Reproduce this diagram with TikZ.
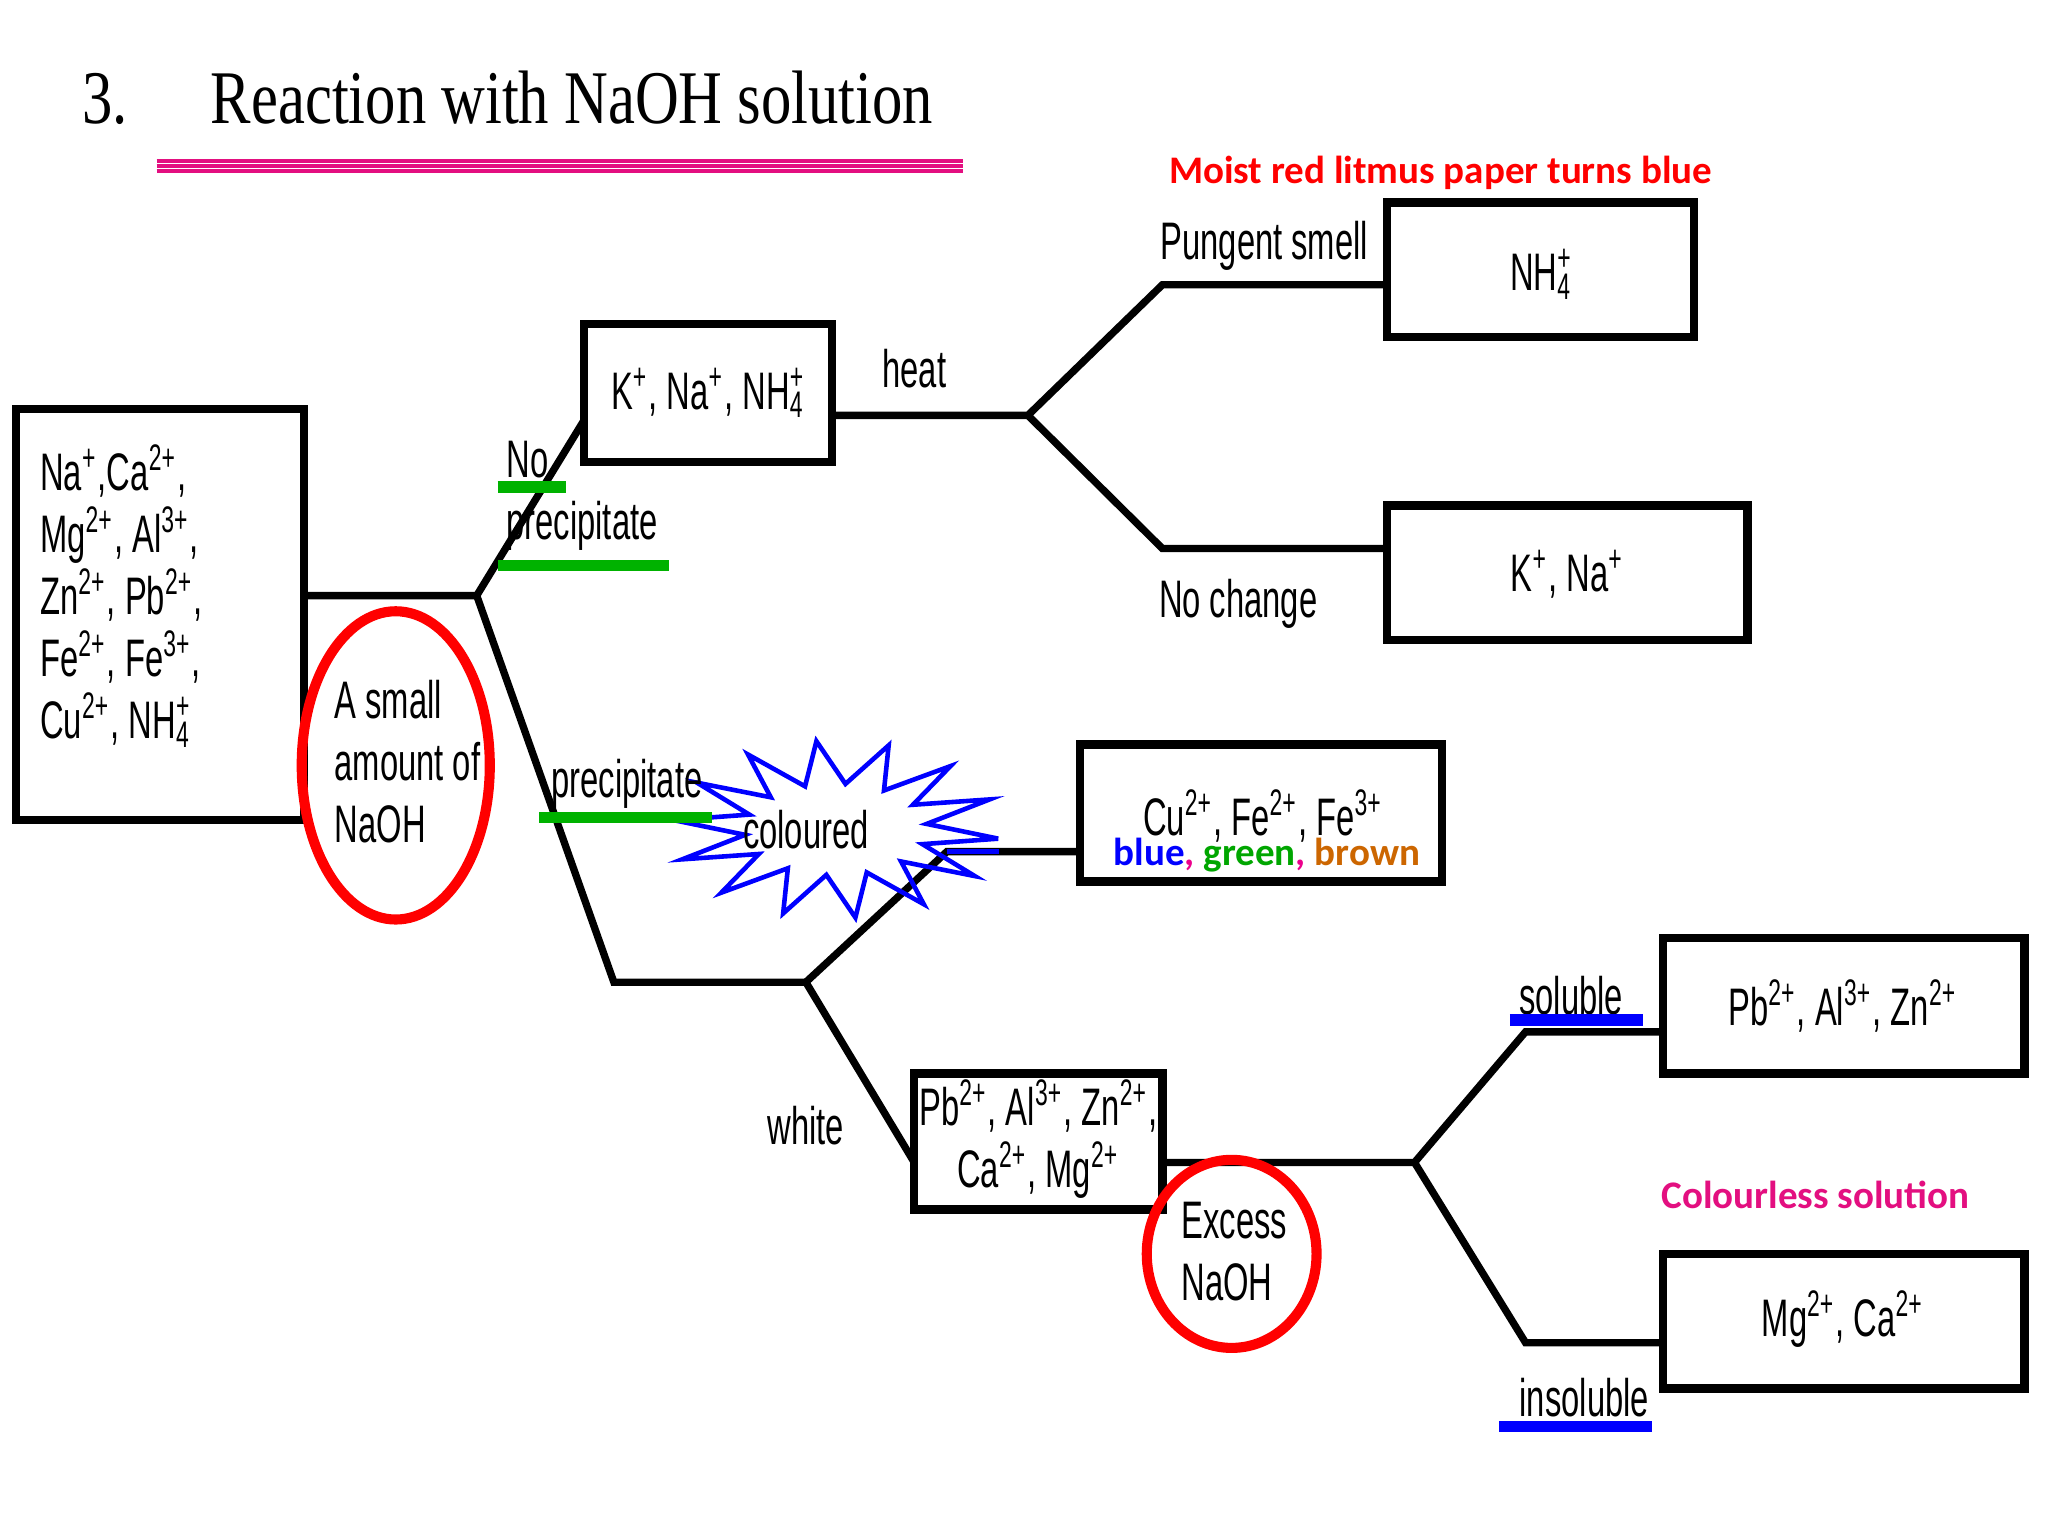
\documentclass[tikz,border=0pt]{standalone}
\usepackage{fontspec}
\newfontfamily\cond{Liberation Sans}[FakeStretch=0.62]
\newfontfamily\titf{Liberation Serif}[FakeStretch=0.8]
\newfontfamily\carl{Carlito}
\newcommand{\up}[1]{\textsuperscript{#1}}
\newcommand{\nhf}{NH\rlap{\textsuperscript{+}}\textsubscript{4}}
\begin{document}
\begin{tikzpicture}[x=0.01cm,y=-0.01cm,line width=1.6pt,
  box/.style={draw,line width=1.8pt},
  t/.style={font=\cond\fontsize{11.5}{13.5}\selectfont,inner sep=0pt},
  lab/.style={font=\carl\bfseries\fontsize{8.5}{10}\selectfont,inner sep=0pt},
  ring/.style={draw=red,line width=2.2pt}]
\useasboundingbox (0,0) rectangle (1568,1176);
\fill[white] (0,0) rectangle (1568,1176);
\node[inner sep=0pt,anchor=west,font=\titf\fontsize{16.5}{20}\selectfont] (title) at (60,75) {3.\hspace{1.1em}Reaction with NaOH solution};
\foreach \yy in {123,127,131} \draw[magenta!80!purple,line width=0.9pt] (120,\yy) -- (737,\yy);
% boxes
\draw[box] (12,313) rectangle (233,628);
\node[t,align=left,anchor=north west] (ions) at (28,338) {Na\up{+},Ca\up{2+},\\Mg\up{2+}, Al\up{3+},\\Zn\up{2+}, Pb\up{2+},\\Fe\up{2+}, Fe\up{3+},\\Cu\up{2+}, \nhf};
\draw[box] (447,248) rectangle (637,354); \node[t] (kna) at (542,301) {K\up{+}, Na\up{+}, \nhf};
\draw[box] (1062,155) rectangle (1297,258); \node[t] (nh) at (1180,210) {\nhf};
\draw[box] (1062,387) rectangle (1338,490); \node[t] (kn) at (1200,440) {K\up{+}, Na\up{+}};
\draw[box] (827,570) rectangle (1104,675); \node[t] (cu) at (967,625) {Cu\up{2+}, Fe\up{2+}, Fe\up{3+}};
\draw[box] (700,822) rectangle (890,926); \node[t,align=center] (pb) at (795,872) {Pb\up{2+}, Al\up{3+}, Zn\up{2+},\\Ca\up{2+}, Mg\up{2+}};
\draw[box] (1273,718) rectangle (1550,822); \node[t] (pz) at (1411,770) {Pb\up{2+}, Al\up{3+}, Zn\up{2+}};
\draw[box] (1273,960) rectangle (1550,1063); \node[t] (mg) at (1411,1010) {Mg\up{2+}, Ca\up{2+}};
% lines
\coordinate (b1) at (365,456); \coordinate (b2) at (617,752); \coordinate (b3) at (787,318); \coordinate (b4) at (1083,890);
\draw (233,456) -- (b1) -- (447,322);
\draw (b1) -- (470,752) -- (b2);
\draw (637,318) -- (b3) -- (890,218) -- (1062,218);
\draw (b3) -- (890,420) -- (1062,420);
\draw (b2) -- (725,652) -- (827,652);
\draw (b2) -- (700,890);
\draw (890,890) -- (b4) -- (1168,790) -- (1273,790);
\draw (b4) -- (1168,1028) -- (1273,1028);
% starburst
\draw[blue,line width=1pt] plot[samples=29,domain=0:28] ({640+(mod(\x,2)==0?125:70)*cos(\x*360/28+6)},{635+(mod(\x,2)==0?68:35)*sin(\x*360/28+6)});
\draw[blue,line width=1pt] (725,652) -- (765,652);
% labels
\node[t,align=left,anchor=north west] (nop) at (385,335) {No\\precipitate};
\draw[green!70!black,line width=2.5pt] (381,373) -- (433,373) (381,433) -- (512,433);
\node[t] (pr) at (480,600) {precipitate};
\draw[green!70!black,line width=2.5pt] (413,626) -- (545,626);
\node[t] (col) at (617,635) {coloured};
\node[t] (heat) at (700,282) {heat};
\node[t] (pun) at (968,188) {Pungent smell};
\node[t] (noch) at (948,462) {No change};
\node[t] (wh) at (617,862) {white};
\node[t] (sol) at (1203,762) {soluble};
\draw[blue,line width=2.5pt] (1156,781) -- (1258,781);
\node[t] (ins) at (1213,1070) {insoluble};
\draw[blue,line width=2.5pt] (1148,1092) -- (1265,1092);
\draw[ring] (303,586) ellipse [x radius=72,y radius=118];
\node[t,align=left] (small) at (312,583) {A small\\amount of\\NaOH};
\draw[ring] (943,960) ellipse [x radius=65,y radius=72];
\node[t,align=left] (exc) at (945,958) {Excess\\NaOH};
\node[lab,red] (moist) at (1103,132) {Moist red litmus paper turns blue};
\node[lab,magenta!80!purple] (cls) at (1390,915) {Colourless solution};
\node[lab] (bgb) at (970,655) {\color{blue}blue\color{magenta}, \color{green!65!black}green\color{magenta}, \color{orange!80!black}brown};
\end{tikzpicture}
\end{document}
